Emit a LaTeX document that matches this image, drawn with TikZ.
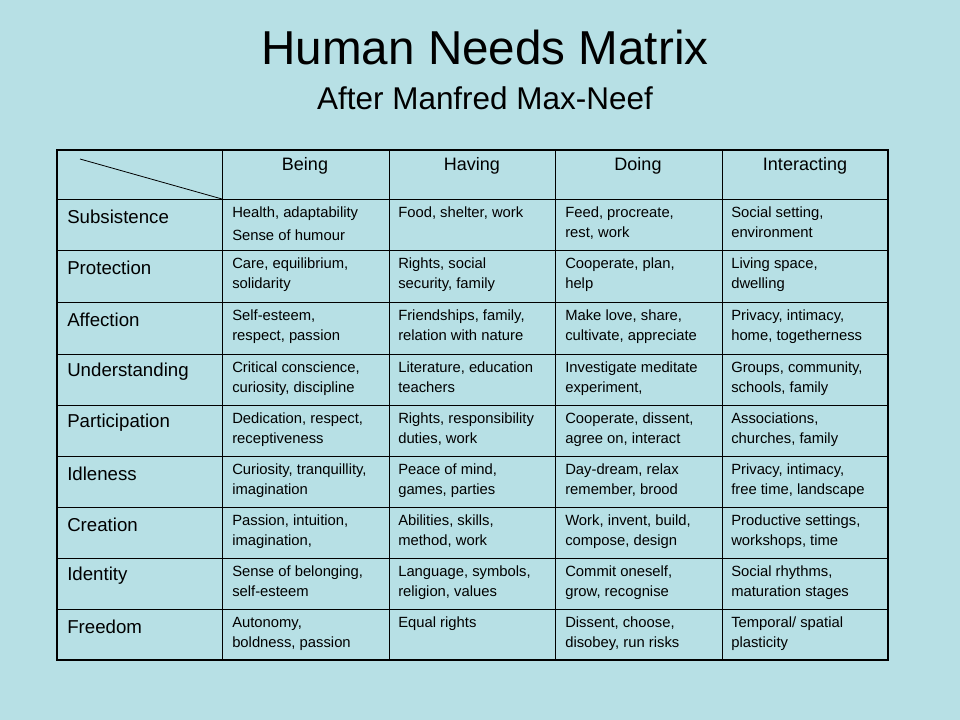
\documentclass[tikz,border=0pt]{standalone}
\usepackage{fontspec}
\setmainfont{Liberation Sans}
\definecolor{bg}{RGB}{183,224,229}
\begin{document}
\begin{tikzpicture}[x=0.75pt,y=-0.75pt,
 cell/.style={anchor=north west,align=left,font=\fontsize{11.1}{15}\selectfont,inner sep=0pt},
 rowlab/.style={anchor=west,font=\fontsize{14}{16}\selectfont,inner sep=0pt},
 head/.style={anchor=center,font=\fontsize{13.5}{16}\selectfont,inner sep=0pt}]
\fill[bg] (0,0) rectangle (960,720);
\useasboundingbox (0,0) rectangle (960,720);
\node[font=\fontsize{35.7}{40}\selectfont] (t) at (485,47) {Human Needs Matrix};
\node[font=\fontsize{23.6}{28}\selectfont] (st) at (485,98) {After Manfred Max-Neef};
% grid
\foreach \x in {222,389,555,722} \draw[line width=0.6pt] (\x,150) -- (\x,660);
\foreach \y in {199,250,302,354,405,456,507,558,609} \draw[line width=0.6pt] (57,\y) -- (888,\y);
\draw[line width=2pt] (57,150) rectangle (888,660);
\draw[line width=0.6pt] (80,159) -- (222,199);
\node[head] (h1) at (305,166) {Being};
\node[head] (h2) at (472,166) {Having};
\node[head] (h3) at (638,166) {Doing};
\node[head] (h4) at (805,166) {Interacting};
\foreach \y/\lab/\a/\b/\c/\d [count=\i] in {
 199/Subsistence/{Health, adaptability\\[2pt]Sense of humour}/{Food, shelter, work}/{Feed, procreate,\\rest, work}/{Social setting,\\environment},
 250/Protection/{Care, equilibrium,\\solidarity}/{Rights, social\\security, family}/{Cooperate, plan,\\help}/{Living space,\\dwelling},
 302/Affection/{Self-esteem,\\respect, passion}/{Friendships, family,\\relation with nature}/{Make love, share,\\cultivate, appreciate}/{Privacy, intimacy,\\home, togetherness},
 354/Understanding/{Critical conscience,\\curiosity, discipline}/{Literature, education\\teachers}/{Investigate meditate\\experiment,}/{Groups, community,\\schools, family},
 405/Participation/{Dedication, respect,\\receptiveness}/{Rights, responsibility\\duties, work}/{Cooperate, dissent,\\agree on, interact}/{Associations,\\churches, family},
 456/Idleness/{Curiosity, tranquillity,\\imagination}/{Peace of mind,\\games, parties}/{Day-dream, relax\\remember, brood}/{Privacy, intimacy,\\free time, landscape},
 507/Creation/{Passion, intuition,\\imagination,}/{Abilities, skills,\\method, work}/{Work, invent, build,\\compose, design}/{Productive settings,\\workshops, time},
 558/Identity/{Sense of belonging,\\self-esteem}/{Language, symbols,\\religion, values}/{Commit oneself,\\grow, recognise}/{Social rhythms,\\maturation stages},
 609/Freedom/{Autonomy,\\boldness, passion}/{Equal rights}/{Dissent, choose,\\disobey, run risks}/{Temporal/ spatial\\plasticity}}{
 \node[rowlab] (r\i) at (67,\y+18) {\lab};
 \node[cell] (a\i) at (232,\y+8) {\a};
 \node[cell] (b\i) at (398,\y+8) {\b};
 \node[cell] (c\i) at (565,\y+8) {\c};
 \node[cell] (d\i) at (731,\y+8) {\d};
}
\end{tikzpicture}
\end{document}
